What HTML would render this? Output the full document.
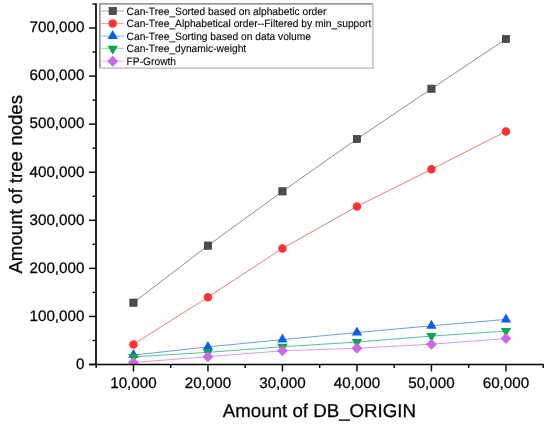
<!DOCTYPE html>
<html><head><meta charset="utf-8"><style>
html,body{margin:0;padding:0;background:#fff;}
svg{display:block;}
text{font-family:"Liberation Sans",Arial,sans-serif;fill:#000;stroke:#000;stroke-width:0.25px;text-rendering:geometricPrecision;}
</style></head><body>
<svg width="550" height="425" viewBox="0 0 550 425">
<rect width="550" height="425" fill="#fff"/>
<defs><clipPath id="pc"><rect x="96" y="0" width="450" height="364.4"/></clipPath></defs>
<g id="series" clip-path="url(#pc)">
<polyline points="133.45,302.65 207.95,245.60 282.45,191.35 356.95,139.00 431.45,88.75 505.95,39.00" fill="none" stroke="#8c8c8c" stroke-width="1"/>
<rect x="129.80" y="299.00" width="7.3" height="7.3" fill="#4e4e4e" stroke="#2e2e2e" stroke-width="0.6"/>
<rect x="204.30" y="241.95" width="7.3" height="7.3" fill="#4e4e4e" stroke="#2e2e2e" stroke-width="0.6"/>
<rect x="278.80" y="187.70" width="7.3" height="7.3" fill="#4e4e4e" stroke="#2e2e2e" stroke-width="0.6"/>
<rect x="353.30" y="135.35" width="7.3" height="7.3" fill="#4e4e4e" stroke="#2e2e2e" stroke-width="0.6"/>
<rect x="427.80" y="85.10" width="7.3" height="7.3" fill="#4e4e4e" stroke="#2e2e2e" stroke-width="0.6"/>
<rect x="502.30" y="35.35" width="7.3" height="7.3" fill="#4e4e4e" stroke="#2e2e2e" stroke-width="0.6"/>
<polyline points="133.45,344.40 207.95,297.15 282.45,248.45 356.95,206.45 431.45,169.35 505.95,131.40" fill="none" stroke="#f27878" stroke-width="1"/>
<circle cx="133.45" cy="344.40" r="4.25" fill="#ff3333"/>
<circle cx="207.95" cy="297.15" r="4.25" fill="#ff3333"/>
<circle cx="282.45" cy="248.45" r="4.25" fill="#ff3333"/>
<circle cx="356.95" cy="206.45" r="4.25" fill="#ff3333"/>
<circle cx="431.45" cy="169.35" r="4.25" fill="#ff3333"/>
<circle cx="505.95" cy="131.40" r="4.25" fill="#ff3333"/>
<polyline points="133.45,355.10 207.95,346.90 282.45,339.60 356.95,332.50 431.45,325.80 505.95,319.40" fill="none" stroke="#6c9ceb" stroke-width="1"/>
<polygon points="133.45,349.10 138.65,358.10 128.25,358.10" fill="#0b5fe8"/>
<polygon points="207.95,340.90 213.15,349.90 202.75,349.90" fill="#0b5fe8"/>
<polygon points="282.45,333.60 287.65,342.60 277.25,342.60" fill="#0b5fe8"/>
<polygon points="356.95,326.50 362.15,335.50 351.75,335.50" fill="#0b5fe8"/>
<polygon points="431.45,319.80 436.65,328.80 426.25,328.80" fill="#0b5fe8"/>
<polygon points="505.95,313.40 511.15,322.40 500.75,322.40" fill="#0b5fe8"/>
<polyline points="133.45,356.90 207.95,352.35 282.45,346.75 356.95,342.05 431.45,336.10 505.95,331.10" fill="none" stroke="#4cc690" stroke-width="1"/>
<polygon points="133.45,362.90 138.65,353.90 128.25,353.90" fill="#0ca655"/>
<polygon points="207.95,358.35 213.15,349.35 202.75,349.35" fill="#0ca655"/>
<polygon points="282.45,352.75 287.65,343.75 277.25,343.75" fill="#0ca655"/>
<polygon points="356.95,348.05 362.15,339.05 351.75,339.05" fill="#0ca655"/>
<polygon points="431.45,342.10 436.65,333.10 426.25,333.10" fill="#0ca655"/>
<polygon points="505.95,337.10 511.15,328.10 500.75,328.10" fill="#0ca655"/>
<polyline points="133.45,362.50 207.95,356.65 282.45,350.80 356.95,348.25 431.45,344.20 505.95,338.60" fill="none" stroke="#d89aea" stroke-width="1"/>
<polygon points="133.45,357.00 138.95,362.50 133.45,368.00 127.95,362.50" fill="#cc6ae6"/>
<polygon points="207.95,351.15 213.45,356.65 207.95,362.15 202.45,356.65" fill="#cc6ae6"/>
<polygon points="282.45,345.30 287.95,350.80 282.45,356.30 276.95,350.80" fill="#cc6ae6"/>
<polygon points="356.95,342.75 362.45,348.25 356.95,353.75 351.45,348.25" fill="#cc6ae6"/>
<polygon points="431.45,338.70 436.95,344.20 431.45,349.70 425.95,344.20" fill="#cc6ae6"/>
<polygon points="505.95,333.10 511.45,338.60 505.95,344.10 500.45,338.60" fill="#cc6ae6"/>
</g>
<g id="axes">
<line x1="96.0" y1="3.3" x2="96.0" y2="364.5" stroke="#111" stroke-width="1.8"/>
<line x1="89.0" y1="364.5" x2="543.6" y2="364.5" stroke="#000" stroke-width="1.4"/>
<line x1="89.0" y1="364.50" x2="96.0" y2="364.50" stroke="#000" stroke-width="1.4"/>
<line x1="92.5" y1="340.46" x2="96.0" y2="340.46" stroke="#000" stroke-width="1.4"/>
<line x1="89.0" y1="316.43" x2="96.0" y2="316.43" stroke="#000" stroke-width="1.4"/>
<line x1="92.5" y1="292.39" x2="96.0" y2="292.39" stroke="#000" stroke-width="1.4"/>
<line x1="89.0" y1="268.36" x2="96.0" y2="268.36" stroke="#000" stroke-width="1.4"/>
<line x1="92.5" y1="244.32" x2="96.0" y2="244.32" stroke="#000" stroke-width="1.4"/>
<line x1="89.0" y1="220.29" x2="96.0" y2="220.29" stroke="#000" stroke-width="1.4"/>
<line x1="92.5" y1="196.25" x2="96.0" y2="196.25" stroke="#000" stroke-width="1.4"/>
<line x1="89.0" y1="172.22" x2="96.0" y2="172.22" stroke="#000" stroke-width="1.4"/>
<line x1="92.5" y1="148.19" x2="96.0" y2="148.19" stroke="#000" stroke-width="1.4"/>
<line x1="89.0" y1="124.15" x2="96.0" y2="124.15" stroke="#000" stroke-width="1.4"/>
<line x1="92.5" y1="100.12" x2="96.0" y2="100.12" stroke="#000" stroke-width="1.4"/>
<line x1="89.0" y1="76.08" x2="96.0" y2="76.08" stroke="#000" stroke-width="1.4"/>
<line x1="92.5" y1="52.05" x2="96.0" y2="52.05" stroke="#000" stroke-width="1.4"/>
<line x1="89.0" y1="28.01" x2="96.0" y2="28.01" stroke="#000" stroke-width="1.4"/>
<line x1="92.5" y1="3.98" x2="96.0" y2="3.98" stroke="#000" stroke-width="1.4"/>
<line x1="96.20" y1="364.5" x2="96.20" y2="368.0" stroke="#000" stroke-width="1.4"/>
<line x1="133.45" y1="364.5" x2="133.45" y2="371.5" stroke="#000" stroke-width="1.4"/>
<line x1="170.70" y1="364.5" x2="170.70" y2="368.0" stroke="#000" stroke-width="1.4"/>
<line x1="207.95" y1="364.5" x2="207.95" y2="371.5" stroke="#000" stroke-width="1.4"/>
<line x1="245.20" y1="364.5" x2="245.20" y2="368.0" stroke="#000" stroke-width="1.4"/>
<line x1="282.45" y1="364.5" x2="282.45" y2="371.5" stroke="#000" stroke-width="1.4"/>
<line x1="319.70" y1="364.5" x2="319.70" y2="368.0" stroke="#000" stroke-width="1.4"/>
<line x1="356.95" y1="364.5" x2="356.95" y2="371.5" stroke="#000" stroke-width="1.4"/>
<line x1="394.20" y1="364.5" x2="394.20" y2="368.0" stroke="#000" stroke-width="1.4"/>
<line x1="431.45" y1="364.5" x2="431.45" y2="371.5" stroke="#000" stroke-width="1.4"/>
<line x1="468.70" y1="364.5" x2="468.70" y2="368.0" stroke="#000" stroke-width="1.4"/>
<line x1="505.95" y1="364.5" x2="505.95" y2="371.5" stroke="#000" stroke-width="1.4"/>
<line x1="543.20" y1="364.5" x2="543.20" y2="368.0" stroke="#000" stroke-width="1.4"/>
</g>
<g id="labels">
<text transform="translate(84.4,368.80) scale(1.0,1)" text-anchor="end" font-size="15.2">0</text>
<text transform="translate(84.4,320.73) scale(1.0,1)" text-anchor="end" font-size="15.2">100,000</text>
<text transform="translate(84.4,272.66) scale(1.0,1)" text-anchor="end" font-size="15.2">200,000</text>
<text transform="translate(84.4,224.59) scale(1.0,1)" text-anchor="end" font-size="15.2">300,000</text>
<text transform="translate(84.4,176.52) scale(1.0,1)" text-anchor="end" font-size="15.2">400,000</text>
<text transform="translate(84.4,128.45) scale(1.0,1)" text-anchor="end" font-size="15.2">500,000</text>
<text transform="translate(84.4,80.38) scale(1.0,1)" text-anchor="end" font-size="15.2">600,000</text>
<text transform="translate(84.4,32.31) scale(1.0,1)" text-anchor="end" font-size="15.2">700,000</text>
<text transform="translate(133.45,387.95) scale(1.0,1)" text-anchor="middle" font-size="15.2">10,000</text>
<text transform="translate(207.95,387.95) scale(1.0,1)" text-anchor="middle" font-size="15.2">20,000</text>
<text transform="translate(282.45,387.95) scale(1.0,1)" text-anchor="middle" font-size="15.2">30,000</text>
<text transform="translate(356.95,387.95) scale(1.0,1)" text-anchor="middle" font-size="15.2">40,000</text>
<text transform="translate(431.45,387.95) scale(1.0,1)" text-anchor="middle" font-size="15.2">50,000</text>
<text transform="translate(505.95,387.95) scale(1.0,1)" text-anchor="middle" font-size="15.2">60,000</text>
<text x="319.4" y="416.7" text-anchor="middle" font-size="18.7">Amount of DB_ORIGIN</text>
<text transform="translate(21.6,184.25) rotate(-90)" text-anchor="middle" font-size="18.7">Amount of tree nodes</text>
</g>
<g id="legend">
<rect x="99.9" y="3.9" width="273" height="64.3" fill="#fff"/>
<path d="M99.9,68.2 V3.9 H372.9" fill="none" stroke="#9a9a9a" stroke-width="1.7"/>
<path d="M99.9,68.2 H372.9 V3.9" fill="none" stroke="#b8b8b8" stroke-width="1.3"/>
<line x1="101.2" y1="11.00" x2="124" y2="11.00" stroke="#b4b4b4" stroke-width="1.2"/>
<rect x="109.05" y="7.35" width="7.3" height="7.3" fill="#4e4e4e" stroke="#2e2e2e" stroke-width="0.6"/>
<text transform="translate(126.6,14.80) scale(0.957,1)" font-size="10.7" style="stroke-width:0.1px">Can-Tree_Sorted based on alphabetic order</text>
<line x1="101.2" y1="23.55" x2="124" y2="23.55" stroke="#f8a4a4" stroke-width="1.2"/>
<circle cx="112.70" cy="23.55" r="4.25" fill="#ff3333"/>
<text transform="translate(126.6,27.35) scale(0.957,1)" font-size="10.7" style="stroke-width:0.1px">Can-Tree_Alphabetical order--Filtered by min_support</text>
<line x1="101.2" y1="36.10" x2="124" y2="36.10" stroke="#9cc0f2" stroke-width="1.2"/>
<polygon points="112.70,30.10 117.90,39.10 107.50,39.10" fill="#0b5fe8"/>
<text transform="translate(126.6,39.90) scale(0.957,1)" font-size="10.7" style="stroke-width:0.1px">Can-Tree_Sorting based on data volume</text>
<line x1="101.2" y1="48.65" x2="124" y2="48.65" stroke="#a4dec0" stroke-width="1.2"/>
<polygon points="112.70,54.65 117.90,45.65 107.50,45.65" fill="#0ca655"/>
<text transform="translate(126.6,52.45) scale(0.957,1)" font-size="10.7" style="stroke-width:0.1px">Can-Tree_dynamic-weight</text>
<line x1="101.2" y1="61.20" x2="124" y2="61.20" stroke="#e6c0f2" stroke-width="1.2"/>
<polygon points="112.70,55.70 118.20,61.20 112.70,66.70 107.20,61.20" fill="#cc6ae6"/>
<text transform="translate(126.6,65.00) scale(0.957,1)" font-size="10.7" style="stroke-width:0.1px">FP-Growth</text>
</g>
</svg>
</body></html>
